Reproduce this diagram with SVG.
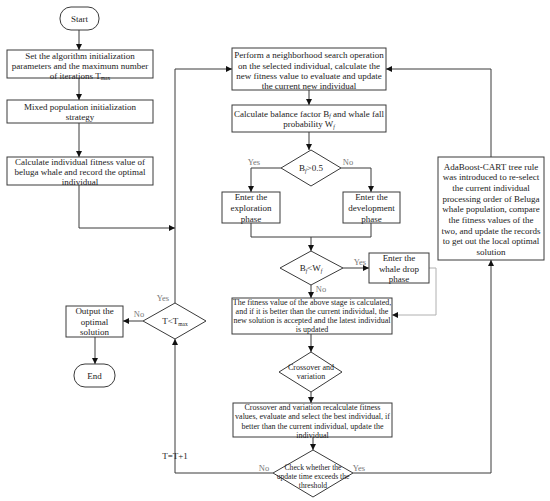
<svg xmlns="http://www.w3.org/2000/svg" width="550" height="501" viewBox="0 0 550 501">
<defs>
<marker id="ah" markerUnits="userSpaceOnUse" markerWidth="8" markerHeight="8" refX="6" refY="3" orient="auto">
<path d="M0,0 L6,3 L0,6 Z" fill="#111"/>
</marker>
<style>
.box{fill:#fff;stroke:#3a3a3a;stroke-width:1}
.t{font-family:"Liberation Serif","Times New Roman",serif;font-size:9px;fill:#222;text-anchor:middle}
.s{font-size:8px}
.xs{font-size:7.6px}
.lab{font-family:"Liberation Serif","Times New Roman",serif;font-size:8.5px;fill:#777;text-anchor:middle}
.c{fill:none;stroke:#3a3a3a;stroke-width:1}
.g{fill:none;stroke:#b0b0b0;stroke-width:1}
.sub{font-size:5.5px}
</style>
</defs>
<rect width="550" height="501" fill="#fff"/>
<g id="connectors">
<path class="c" d="M79,30 V50" marker-end="url(#ah)"/>
<path class="c" d="M79,78 V100" marker-end="url(#ah)"/>
<path class="c" d="M79,123 V157" marker-end="url(#ah)"/>
<path class="c" d="M79,185 V228 H175" marker-end="url(#ah)"/>
<path class="c" d="M175,303 V69 H232" marker-end="url(#ah)"/>
<path class="c" d="M143,321 H123" marker-end="url(#ah)"/>
<path class="c" d="M95,337 V364" marker-end="url(#ah)"/>
<path class="c" d="M309,90 V105" marker-end="url(#ah)"/>
<path class="c" d="M309,132 V150" marker-end="url(#ah)"/>
<path class="c" d="M281,168 H251 V192" marker-end="url(#ah)"/>
<path class="c" d="M341,168 H371 V192" marker-end="url(#ah)"/>
<path class="c" d="M251,223 V237 H371 V223"/>
<path class="c" d="M311,237 V251" marker-end="url(#ah)"/>
<path class="c" d="M343,268 H369" marker-end="url(#ah)"/>
<path class="c" d="M311,285 V298" marker-end="url(#ah)"/>
<path class="g" d="M429,268 H436 V315 H392" marker-end="url(#ah)"/>
<path class="c" d="M311,334 V352" marker-end="url(#ah)"/>
<path class="c" d="M311,392 V403" marker-end="url(#ah)"/>
<path class="c" d="M313,437 V450" marker-end="url(#ah)"/>
<path class="c" d="M273,473 H175 V339" marker-end="url(#ah)"/>
<path class="c" d="M353,473 H491 V260" marker-end="url(#ah)"/>
<path class="c" d="M491,157 V69 H386" marker-end="url(#ah)"/>
</g>
<g id="labels">
<text class="lab" x="163" y="301">Yes</text>
<text class="lab" x="139" y="317">No</text>
<text class="lab" x="254" y="165">Yes</text>
<text class="lab" x="348" y="165">No</text>
<text class="lab" x="360" y="265">Yes</text>
<text class="lab" x="321" y="292">No</text>
<text class="t" x="175" y="459">T=T+1</text>
<text class="lab" x="264" y="471">No</text>
<text class="lab" x="359" y="471">Yes</text>
</g>
<g id="start">
<rect class="box" x="60" y="7" width="39" height="23" rx="11"/>
<text class="t" x="79.5" y="21.5">Start</text>
</g>
<g id="init-params">
<rect class="box" x="7" y="50" width="146" height="28"/>
<text class="t" x="80" y="58.5">Set the algorithm initialization</text>
<text class="t" x="80" y="68.5">parameters and the maximum number</text>
<text class="t" x="80" y="78.5">of iterations T<tspan class="sub" dy="1.5">max</tspan></text>
</g>
<g id="mixed-init">
<rect class="box" x="7" y="100" width="146" height="23"/>
<text class="t" x="80" y="110">Mixed population initialization</text>
<text class="t" x="80" y="120">strategy</text>
</g>
<g id="calc-fitness">
<rect class="box" x="7" y="157" width="146" height="28"/>
<text class="t" x="80" y="165">Calculate individual fitness value of</text>
<text class="t" x="80" y="175">beluga whale and record the optimal</text>
<text class="t" x="80" y="184.5">individual</text>
</g>
<g id="t-check">
<polygon class="box" points="175,303 206,321 175,339 143,321"/>
<text class="t" x="175" y="324">T&lt;T<tspan class="sub" dy="1.5">max</tspan></text>
</g>
<g id="output">
<rect class="box" x="66" y="306" width="57" height="31"/>
<text class="t" x="94.5" y="314">Output the</text>
<text class="t" x="94.5" y="324.5">optimal</text>
<text class="t" x="94.5" y="335">solution</text>
</g>
<g id="end">
<rect class="box" x="74" y="364" width="41" height="23" rx="11"/>
<text class="t" x="94.5" y="378.5">End</text>
</g>
<g id="neighborhood">
<rect class="box" x="232" y="48" width="154" height="42"/>
<text class="t" x="309" y="58">Perform a neighborhood search operation</text>
<text class="t" x="309" y="68.5">on the selected individual, calculate the</text>
<text class="t" x="309" y="79">new fitness value to evaluate and update</text>
<text class="t" x="309" y="89">the current new individual</text>
</g>
<g id="balance">
<rect class="box" x="232" y="105" width="154" height="27"/>
<text class="t" x="309" y="116.5">Calculate balance factor B<tspan class="sub" font-style="italic" dy="1.5">f</tspan><tspan dy="-1.5"> and whale fall</tspan></text>
<text class="t" x="309" y="127">probability W<tspan class="sub" font-style="italic" dy="1.5">f</tspan></text>
</g>
<g id="bf-check">
<polygon class="box" points="311,150 341,168 311,186 281,168"/>
<text class="t" x="311" y="171">B<tspan class="sub" font-style="italic" dy="1.5">f</tspan><tspan dy="-1.5">&gt;0.5</tspan></text>
</g>
<g id="exploration">
<rect class="box" x="222" y="192" width="58" height="31"/>
<text class="t" x="251" y="199.5">Enter the</text>
<text class="t" x="251" y="211">exploration</text>
<text class="t" x="251" y="222">phase</text>
</g>
<g id="development">
<rect class="box" x="343" y="192" width="57" height="31"/>
<text class="t" x="371.5" y="199.5">Enter the</text>
<text class="t" x="371.5" y="211">development</text>
<text class="t" x="371.5" y="222">phase</text>
</g>
<g id="bw-check">
<polygon class="box" points="311,251 343,268 311,285 280,268"/>
<text class="t" x="311" y="271">B<tspan class="sub" font-style="italic" dy="1.5">f</tspan><tspan dy="-1.5">&lt;W</tspan><tspan class="sub" font-style="italic" dy="1.5">f</tspan></text>
</g>
<g id="whale-drop">
<rect class="box" x="369" y="253" width="60" height="30"/>
<text class="t" x="399" y="261">Enter the</text>
<text class="t" x="399" y="272">whale drop</text>
<text class="t" x="399" y="282">phase</text>
</g>
<g id="fitness-update">
<rect class="box" x="232" y="298" width="160" height="36"/>
<text class="t s" x="312" y="304.5">The fitness value of the above stage is calculated,</text>
<text class="t s" x="312" y="313.8">and if it is better than the current individual, the</text>
<text class="t s" x="312" y="323">new solution is accepted and the latest individual</text>
<text class="t s" x="312" y="332.3">is updated</text>
</g>
<g id="crossover">
<polygon class="box" points="311,352 342,372 311,392 279,372"/>
<text class="t s" x="311" y="369.5">Crossover and</text>
<text class="t s" x="311" y="379">variation</text>
</g>
<g id="crossover-update">
<rect class="box" x="233" y="403" width="159" height="34"/>
<text class="t s" x="312.5" y="409.5">Crossover and variation recalculate fitness</text>
<text class="t s" x="312.5" y="419">values, evaluate and select the best individual, if</text>
<text class="t s" x="312.5" y="428.5">better than the current individual, update the</text>
<text class="t s" x="312.5" y="438">individual</text>
</g>
<g id="threshold-check">
<polygon class="box" points="313,450 353,473 313,497 273,473"/>
<text class="t xs" x="313" y="470">Check whether the</text>
<text class="t xs" x="313" y="479">update time exceeds the</text>
<text class="t xs" x="313" y="488">threshold</text>
</g>
<g id="adaboost">
<rect class="box" x="438" y="157" width="106" height="103"/>
<text class="t" x="491" y="169.5">AdaBoost-CART tree rule</text>
<text class="t" x="491" y="180.2">was introduced to re-select</text>
<text class="t" x="491" y="190.8">the current individual</text>
<text class="t" x="491" y="201.5">processing order of Beluga</text>
<text class="t" x="491" y="212.2">whale population, compare</text>
<text class="t" x="491" y="222.8">the fitness values of the</text>
<text class="t" x="491" y="233.5">two, and update the records</text>
<text class="t" x="491" y="244.2">to get out the local optimal</text>
<text class="t" x="491" y="254.8">solution</text>
</g>
</svg>
